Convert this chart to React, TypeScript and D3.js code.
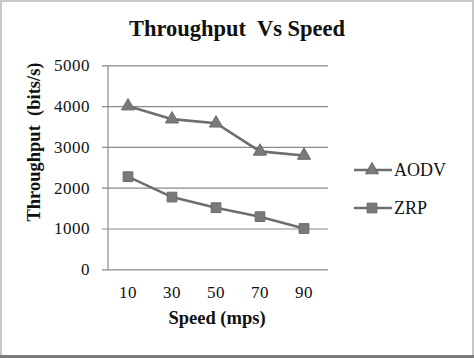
import React, { useEffect, useRef } from 'react';
import * as d3 from 'd3';

const speeds = ['10', '30', '50', '70', '90'];
const aodv = [4000, 3680, 3580, 2890, 2790];
const zrp = [2270, 1770, 1510, 1290, 1000];
const yTicks = [0, 1000, 2000, 3000, 4000, 5000];
const seriesNames = ['AODV', 'ZRP'];

const W = 474;
const H = 358;
const FONT = '"Liberation Serif", "Times New Roman", serif';

const App: React.FC = () => {
  const svgRef = useRef<SVGSVGElement | null>(null);

  useEffect(() => {
    if (!svgRef.current) return;
    const svg = d3.select(svgRef.current);
    svg.selectAll('*').remove();

    // frame
    svg.append('rect').attr('width', W).attr('height', H).attr('fill', '#fff');
    svg.append('rect')
      .attr('x', 1).attr('y', 1).attr('width', W - 2).attr('height', H - 2)
      .attr('fill', 'none').attr('stroke', '#c8c8c8').attr('stroke-width', 2);
    svg.append('rect')
      .attr('x', 0).attr('y', H - 3).attr('width', W).attr('height', 3)
      .attr('fill', '#7a7a7a');

    const plot = { left: 108, right: 328, top: 65.3, bottom: 269.3 };

    const x = d3.scaleBand().domain(speeds).range([plot.left, plot.right]);
    const y = d3.scaleLinear().domain([0, 5000]).range([plot.bottom, plot.top]);

    // gridlines + y ticks
    const yAxis = d3.axisLeft(y)
      .tickValues(yTicks)
      .tickFormat(d3.format('d'))
      .tickSize(-(plot.right - plot.left));
    const gy = svg.append('g')
      .attr('transform', `translate(${plot.left},0)`)
      .attr('font-family', FONT)
      .call(yAxis);
    gy.select('.domain').remove();
    gy.selectAll('.tick line')
      .attr('x1', -6)
      .attr('stroke', '#8a8a8a').attr('stroke-width', 1.2);
    gy.selectAll('.tick text')
      .attr('x', -18)
      .attr('fill', '#111').style('font-family', FONT).style('font-size', '17px')
      .style('letter-spacing', '0.5px');

    // y axis line
    svg.append('line')
      .attr('x1', plot.left).attr('x2', plot.left)
      .attr('y1', plot.top).attr('y2', plot.bottom)
      .attr('stroke', '#8a8a8a').attr('stroke-width', 1.2);

    // x tick labels
    const xAxis = d3.axisBottom(x).tickSize(0).tickPadding(0);
    const gx = svg.append('g')
      .attr('transform', `translate(0,${plot.bottom})`)
      .attr('font-family', FONT)
      .call(xAxis);
    gx.select('.domain').remove();
    gx.selectAll('.tick text')
      .attr('y', 17).attr('dy', '0.71em').attr('dx', -2)
      .attr('fill', '#111').style('font-family', FONT).style('font-size', '17px')
      .style('letter-spacing', '0.5px');

    const px = (i: number) => (x(speeds[i]) as number) + x.bandwidth() / 2 - 2;

    const line = d3.line<number>()
      .x((_, i) => px(i))
      .y(d => y(d));

    const triangle = d3.symbol().type(d3.symbolTriangle).size(75);
    const square = d3.symbol().type(d3.symbolSquare).size(95);

    const drawSeries = (vals: number[], sym: d3.Symbol<any, any>) => {
      svg.append('path')
        .attr('d', line(vals) as string)
        .attr('fill', 'none').attr('stroke', '#6e6e6e').attr('stroke-width', 2.6);
      svg.selectAll(null)
        .data(vals)
        .enter()
        .append('path')
        .attr('d', sym() as string)
        .attr('transform', (d, i) => `translate(${px(i)},${y(d)})`)
        .attr('fill', '#7a7a7a').attr('stroke', '#6a6a6a').attr('stroke-width', 1);
    };
    drawSeries(aodv, triangle);
    drawSeries(zrp, square);

    // legend
    const legend = svg.append('g');
    const legendY = [170, 208];
    seriesNames.forEach((name, i) => {
      const ly = legendY[i];
      legend.append('line')
        .attr('x1', 354).attr('x2', 392).attr('y1', ly).attr('y2', ly)
        .attr('stroke', '#6e6e6e').attr('stroke-width', 2.6);
      legend.append('path')
        .attr('d', (i === 0 ? triangle : square)() as string)
        .attr('transform', `translate(372,${ly})`)
        .attr('fill', '#7a7a7a').attr('stroke', '#6a6a6a');
      legend.append('text')
        .attr('x', 394).attr('y', ly).attr('dy', '0.35em')
        .attr('fill', '#111').style('font-family', FONT).style('font-size', '18px')
        .text(name);
    });

    // title
    svg.append('text')
      .attr('x', 237).attr('y', 36)
      .attr('text-anchor', 'middle')
      .attr('fill', '#111').style('font-family', FONT)
      .style('font-size', '22.5px').style('font-weight', 'bold')
      .style('white-space', 'pre')
      .text('Throughput  Vs Speed');

    // axis titles
    svg.append('text')
      .attr('x', 217).attr('y', 324)
      .attr('text-anchor', 'middle')
      .attr('fill', '#111').style('font-family', FONT)
      .style('font-size', '18.5px').style('font-weight', 'bold')
      .text('Speed (mps)');

    svg.append('text')
      .attr('transform', 'translate(40,142) rotate(-90)')
      .attr('text-anchor', 'middle')
      .attr('fill', '#111').style('font-family', FONT)
      .style('font-size', '18.5px').style('font-weight', 'bold')
      .style('white-space', 'pre')
      .text('Throughput  (bits/s)');
  }, []);

  return (
    <svg
      ref={svgRef}
      width={W}
      height={H}
      style={{ position: 'absolute', left: 0, top: 0, display: 'block' }}
    />
  );
};

export default App;
